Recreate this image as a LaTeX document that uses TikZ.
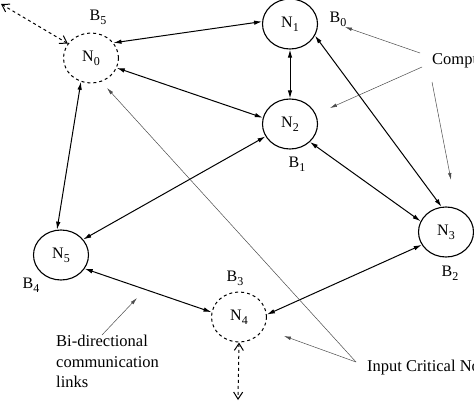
\documentclass[tikz,border=0pt]{standalone}
\usepackage{fontspec}
\setmainfont{Liberation Serif}
\usetikzlibrary{shapes.geometric,arrows.meta}
\newcommand{\lowsub}[1]{\raisebox{-0.55ex}{\fontsize{12}{12}\selectfont #1}}
\begin{document}
\begin{tikzpicture}[x=1pt,y=-1pt,
  nd/.style={draw,ellipse,line width=1.1pt,inner sep=0pt,minimum width=55pt,minimum height=50pt,font=\fontsize{16}{18}\selectfont},
  dnd/.style={nd,dashed,line width=1pt},
  lbl/.style={font=\fontsize{16}{18}\selectfont},
  link/.style={line width=1pt,{Latex[length=8pt,width=4.5pt]}-{Latex[length=8pt,width=4.5pt]}},
  dlink/.style={line width=1pt,dashed,{Straight Barb[length=7pt,width=9pt]}-{Straight Barb[length=7pt,width=9pt]}},
  note/.style={line width=0.5pt,black!70,-{Latex[length=7pt,width=3.5pt]}},
  ann/.style={font=\fontsize{16.5}{20.5}\selectfont,align=left,inner sep=0pt}]
\useasboundingbox (0,0) rectangle (474,402);
\clip (0,0) rectangle (474,402);
\node[dnd] (N0) at (91,58) {N\lowsub{0}};
\node[nd] (N1) at (290,24) {N\lowsub{1}};
\node[nd] (N2) at (290,124) {N\lowsub{2}};
\node[nd] (N3) at (446,232) {N\lowsub{3}};
\node[dnd] (N4) at (239,317) {N\lowsub{4}};
\node[nd] (N5) at (61,255) {N\lowsub{5}};
\node[lbl] (B0) at (338,19) {B\lowsub{0}};
\node[lbl] (B1) at (297,164) {B\lowsub{1}};
\node[lbl] (B2) at (450,273) {B\lowsub{2}};
\node[lbl] (B3) at (235,278) {B\lowsub{3}};
\node[lbl] (B4) at (31,285) {B\lowsub{4}};
\node[lbl] (B5) at (98,17) {B\lowsub{5}};
\coordinate (tl) at (1,4);
\coordinate (bot) at (238,400);
\draw[dlink] (tl) -- (N0.148);
\draw[dlink] (N4.-90) -- (bot);
\draw[link] (N0.34) -- (N1.175);
\draw[link] (N0.-21) -- (N2.167);
\draw[link] (N0.247) -- (N5.99);
\draw[link] (N1.-90) -- (N2.90);
\draw[link] (N1.-25) -- (N3.100);
\draw[link] (N2.-42) -- (N3.157);
\draw[link] (N2.207) -- (N5.35);
\draw[link] (N5.-30) -- (N4.170);
\draw[link] (N4.5) -- (N3.208);
\node[ann,anchor=west] (comp) at (432,61) {Computing Nodes};
\node[ann,anchor=west] (icn) at (367,368) {Input Critical Nodes};
\node[ann,anchor=north west] (bdl) at (56,335) {Bi-directional\\communication\\links};
\coordinate (c1) at (420,53);
\coordinate (c2) at (422,67);
\coordinate (c3) at (432,82);
\coordinate (e1) at (345,27);
\coordinate (e2) at (330,108);
\coordinate (e3) at (451,180);
\draw[note] (c1) -- (e1);
\draw[note] (c2) -- (e2);
\draw[note] (c3) -- (e3);
\coordinate (i0) at (356,362);
\coordinate (ie1) at (284,336);
\coordinate (ie2) at (107,88);
\draw[note] (i0) -- (ie1);
\draw[note] (i0) -- (ie2);
\coordinate (b0) at (102,335);
\coordinate (be) at (137,298);
\draw[note] (b0) -- (be);
\end{tikzpicture}
\end{document}
